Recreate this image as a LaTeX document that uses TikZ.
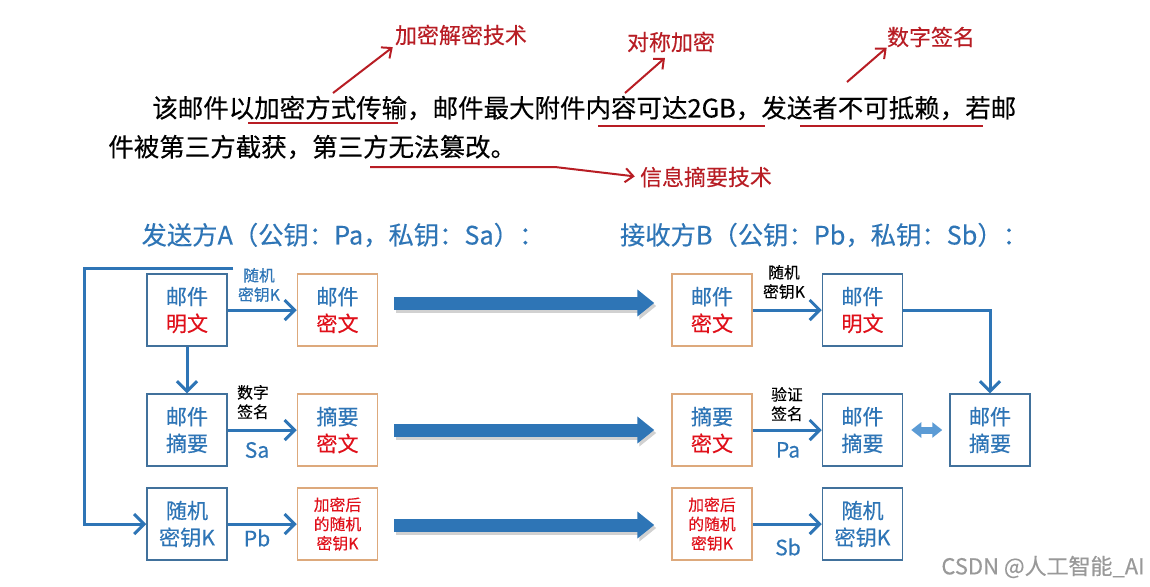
\documentclass[tikz,border=0pt]{standalone}
\usepackage{fontspec}
\setmainfont{Noto Sans CJK SC}[FakeBold=0.3]
\usetikzlibrary{arrows.meta,calc}

\definecolor{blueT}{HTML}{2E75B6}
\definecolor{blueL}{HTML}{41719C}
\definecolor{lblue}{HTML}{5B9BD5}
\definecolor{orangeL}{HTML}{DDA97C}
\definecolor{redT}{HTML}{E0101A}
\definecolor{redD}{HTML}{B81D24}

\begin{document}
\begin{tikzpicture}[x=0.2mm,y=-0.2mm]
    \tikzstyle{every node}=[inner sep=0pt]
    \tikzstyle{bbox}=[draw=blueL, line width=0.3mm, minimum width=16mm, minimum height=14.4mm,
                      align=center, text=blueT, font=\fontsize{12}{15.3}\selectfont]
    \tikzstyle{obox}=[bbox, draw=orangeL]
    \tikzstyle{rbox}=[obox, text=redT, font=\fontsize{9}{11}\selectfont]
    \tikzstyle{lbl}=[align=center, font=\fontsize{9}{11}\selectfont]
    \tikzstyle{keyname}=[text=blueT, font=\fontsize{12}{14}\selectfont]
    \tikzstyle{title}=[text=blueT, font=\fontsize{14.4}{16}\selectfont]
    \tikzstyle{para}=[anchor=west, font=\fontsize{14.5}{17}\selectfont]
    \tikzstyle{note}=[text=redD, font=\fontsize{12.5}{15}\selectfont]
    \tikzstyle{uline}=[draw=redD, line width=0.5mm]
    \tikzstyle{narrow}=[uline, line width=0.4mm, -{Straight Barb[length=1.6mm,width=2.8mm]}]
    \tikzstyle{conn}=[draw=blueT, line width=0.6mm, -{Straight Barb[length=2mm,width=4mm]}]
    \tikzstyle{big}=[line width=2.6mm, -{Triangle[length=3.4mm,width=5.2mm]},
                     shorten <=3.2mm, shorten >=3.4mm]

    \useasboundingbox[fill=white] (0,0) rectangle (1150,586);

      % text on top
      \node[para] (l1) at (152,108) {该邮件以加密方式传输，邮件最大附件内容可达2GB，发送者不可抵赖，若邮};
      \node[para] (l2) at (108,147) {件被第三方截获，第三方无法篡改。};

      \node[note] (enc) at (461,35)  {加密解密技术};
      \node[note] (sym) at (671,42)  {对称加密};
      \node[note] (sig) at (931,37)  {数字签名};
      \node[note] (dig) at (706,177) {信息摘要技术};

      % underlines
      \draw[uline] (248,123) -- (398,123);
      \draw[uline] (598,126) -- (765,126);
      \draw[uline] (800,126) -- (983,126);

      \coordinate (a1) at (333,93);
      \coordinate (a2) at (625,93);
      \coordinate (a3) at (847,82);
      \coordinate (u4a) at (370,167);
      \coordinate (u4b) at (555,167);
      \draw[narrow, shorten >=0.5mm] (a1) -- (enc.south west);
      \draw[narrow, shorten >=1.6mm] (a2) -- (sym.south);
      \draw[narrow] (a3) -- (sig.south west);
      \draw[narrow, shorten >=1mm] (u4a) -- (u4b) -- (dig.west);

      % sender A
      \node[title] (sndA) at (343,235) {发送方A（公钥：Pa，私钥：Sa）：};

      \node[bbox] (plainA) at (187,310)   {邮件\\{\color{redT}明文}};
      \node[obox] (encA)   at (337.5,310) {邮件\\{\color{redT}密文}};
      \node[bbox] (digA)   at (187,430)   {邮件\\摘要};
      \node[obox] (sigA)   at (337.5,430) {摘要\\{\color{redT}密文}};
      \node[bbox] (keyA)   at (187,524)   {随机\\密钥K};
      \node[rbox] (ekeyA)  at (337.5,524) {加密后\\的随机\\密钥K};

      \node[lbl, text=blueT] (kA) at (259,285) {随机\\密钥K};
      \node[lbl] (sA) at (253,402) {数字\\签名};
      \node[keyname] (Sa) at (257,450) {Sa};
      \node[keyname] (Pb) at (257,538) {Pb};

      \coordinate (kAtop) at (233,268);
      \coordinate (lt) at (84,268);
      \draw[conn] (plainA.east) -- (encA.west);
      \draw[conn] (plainA.south) -- (digA.north);
      \draw[conn] (digA.east) -- (sigA.west);
      \draw[conn] (keyA.east) -- (ekeyA.west);
      \draw[conn] (kAtop) -- (lt) |- (keyA.west);

      % receiver B
      \node[title] (rcvB) at (824,235) {接收方B（公钥：Pb，私钥：Sb）：};

      \node[obox] (encB)   at (712,310)   {邮件\\{\color{redT}密文}};
      \node[bbox] (plainB) at (862.5,310) {邮件\\{\color{redT}明文}};
      \node[obox] (sigB)   at (712,430)   {摘要\\{\color{redT}密文}};
      \node[bbox] (digB)   at (862.5,430) {邮件\\摘要};
      \node[bbox] (digB2)  at (990,430)   {邮件\\摘要};
      \node[rbox] (ekeyB)  at (712,524)   {加密后\\的随机\\密钥K};
      \node[bbox] (keyB)   at (862.5,524) {随机\\密钥K};

      \node[lbl] (kB) at (784,282) {随机\\密钥K};
      \node[lbl] (vB) at (787,404) {验证\\签名};
      \node[keyname] (Pa) at (788,450) {Pa};
      \node[keyname] (Sb) at (788,547) {Sb};

      \draw[conn] (encB.east) -- (plainB.west);
      \draw[conn] (sigB.east) -- (digB.west);
      \draw[conn] (ekeyB.east) -- (keyB.west);
      \draw[conn] (plainB.east) -| (digB2.north);

      % compare
      \draw[draw=lblue, line width=1.4mm, {Triangle[length=2mm,width=3mm]}-{Triangle[length=2mm,width=3mm]},
            shorten <=1.6mm, shorten >=1.4mm] (digB.east) -- (digB2.west);

      % transfer arrows
      \foreach \a/\b/\s in {encA/encB/1.4mm, sigA/sigB/0mm, ekeyA/ekeyB/-0.2mm}{
        \draw[big, draw=black!18, transform canvas={shift={(0.4mm,-0.6mm)}}]
             ([yshift=\s]\a.east) -- ([yshift=\s]\b.west);
        \draw[big, draw=blueT] ([yshift=\s]\a.east) -- ([yshift=\s]\b.west);
      }

      \node[text=black!40, font=\fontsize{12.5}{14}\selectfont] (wm) at (1043,567) {CSDN @人工智能\_AI};

\end{tikzpicture}
\end{document}
